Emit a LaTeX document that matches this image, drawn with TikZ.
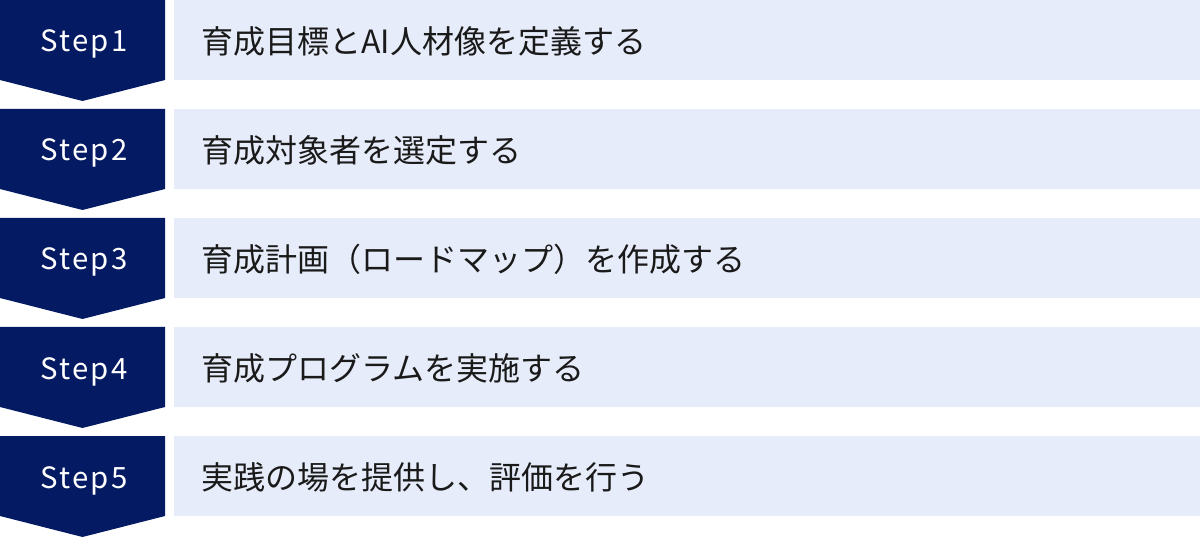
\documentclass[tikz,border=0pt]{standalone}
\usepackage{fontspec}
\setmainfont{Noto Sans CJK JP}
\newfontfamily\stepfont[LetterSpace=8]{Noto Sans CJK JP}
\definecolor{navy}{HTML}{041A62}
\definecolor{pale}{HTML}{E6ECF9}
\definecolor{ink}{HTML}{1A1A1A}
\tikzset{
  chevron/.style={fill=navy},
  barfill/.style={fill=pale},
  steplabel/.style={text=white,font=\stepfont\fontsize{22}{26}\selectfont,inner sep=0pt,anchor=base},
  tasklabel/.style={text=ink,font=\fontsize{24}{28}\selectfont,inner sep=0pt,anchor=west}
}
\begin{document}
\begin{tikzpicture}[x=0.75pt,y=-0.75pt]
\useasboundingbox (0,0) rectangle (1200,538);
\foreach \i/\txt in {1/育成目標とAI人材像を定義する,2/育成対象者を選定する,3/育成計画（ロードマップ）を作成する,4/育成プログラムを実施する,5/実践の場を提供し、評価を行う}{
  \pgfmathsetmacro{\t}{(\i-1)*109}
  \fill[chevron] (0,\t) -- (165,\t) -- (165,\t+80) -- (82.5,\t+101) -- (0,\t+80) -- cycle;
  \fill[barfill] (174,\t) rectangle (1200,\t+80);
  \node[steplabel] (s\i) at (84,\t+52) {Step\i};
  \node[tasklabel] (t\i) at (201,\t+41) {\txt};
}
\end{tikzpicture}
\end{document}
